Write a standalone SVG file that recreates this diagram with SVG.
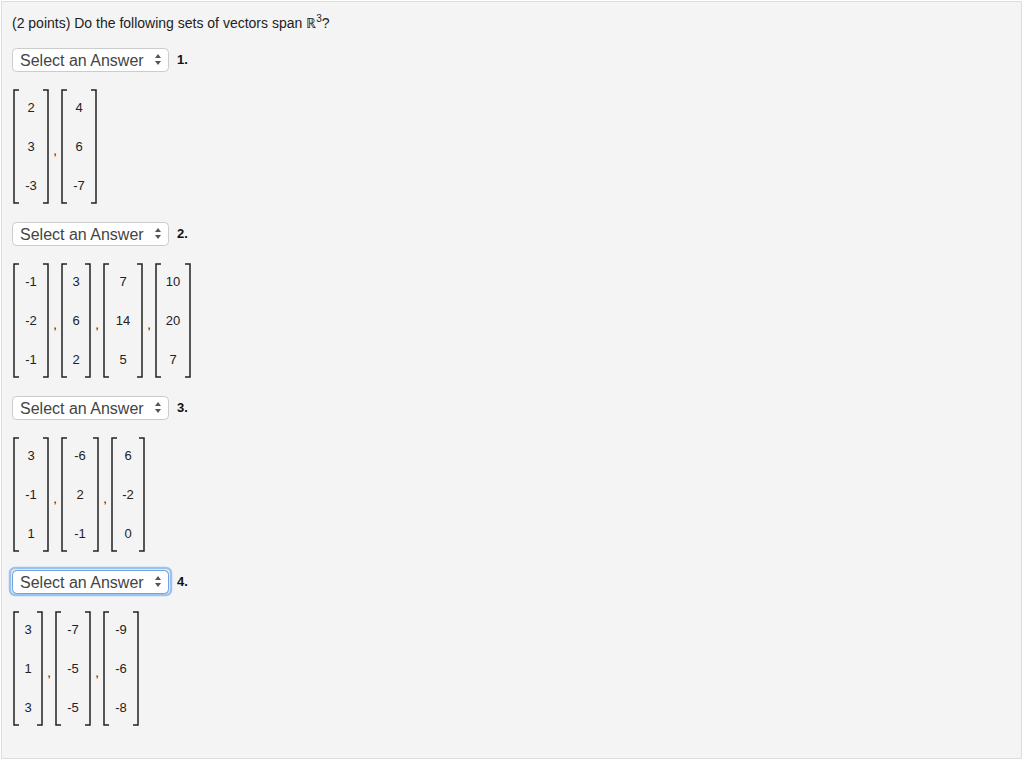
<svg xmlns="http://www.w3.org/2000/svg" width="1024" height="760" viewBox="0 0 1024 760">
<style>
text{font-family:"Liberation Sans",Arial,sans-serif;fill:#222}
.t{font-size:14px}
.s{font-size:16px;fill:#444}
.n{font-size:13px;font-weight:bold;fill:#111}
.e{font-size:13px;text-anchor:middle}
.b{fill:none;stroke:#222;stroke-width:1.5}
.sel{fill:#fff;stroke:#ccc;stroke-width:1}
.ar{fill:#555}
</style>
<rect x="1.5" y="1.5" width="1020" height="757" fill="#f4f4f4" stroke="#ddd"/>
<text class="t" x="12" y="28">(2 points) Do the following sets of vectors span ℝ<tspan dy="-6" font-size="10">3</tspan><tspan dy="6">?</tspan></text>
<defs>
<g id="selbox">
<rect class="sel" x="12.5" y="0.5" width="156" height="23" rx="4"/>
<text class="s" x="20" y="18">Select an Answer</text>
<path class="ar" d="M155 10 l3 -4 l3 4z M155 13 l3 4 l3 -4z"/>
</g>
</defs>
<g id="q1">
<use href="#selbox" y="48"/><text class="n" x="177" y="64">1.</text>
<path class="b" d="M19 90H14V203H19 M43 90H48V203H43 M67 90H62V203H67 M91 90H96V203H91"/>
<text class="e" x="31" y="112">2</text><text class="e" x="31" y="151">3</text><text class="e" x="31" y="190">-3</text>
<text class="e" x="55" y="155">,</text>
<text class="e" x="79" y="112">4</text><text class="e" x="79" y="151">6</text><text class="e" x="79" y="190">-7</text>
</g>
<g id="q2">
<use href="#selbox" y="222"/><text class="n" x="177" y="238">2.</text>
<path class="b" d="M19 264H14V377H19 M43 264H48V377H43 M67 264H62V377H67 M85 264H90V377H85 M109 264H104V377H109 M137 264H142V377H137 M161 264H156V377H161 M185 264H190V377H185"/>
<text class="e" x="31" y="286">-1</text><text class="e" x="31" y="325">-2</text><text class="e" x="31" y="364">-1</text>
<text class="e" x="55" y="329">,</text>
<text class="e" x="76" y="286">3</text><text class="e" x="76" y="325">6</text><text class="e" x="76" y="364">2</text>
<text class="e" x="97" y="329">,</text>
<text class="e" x="123" y="286">7</text><text class="e" x="123" y="325">14</text><text class="e" x="123" y="364">5</text>
<text class="e" x="149" y="329">,</text>
<text class="e" x="173" y="286">10</text><text class="e" x="173" y="325">20</text><text class="e" x="173" y="364">7</text>
</g>
<g id="q3">
<use href="#selbox" y="396"/><text class="n" x="177" y="412">3.</text>
<path class="b" d="M19 438H14V551H19 M43 438H48V551H43 M67 438H62V551H67 M93 438H98V551H93 M117 438H112V551H117 M139 438H144V551H139"/>
<text class="e" x="31" y="460">3</text><text class="e" x="31" y="499">-1</text><text class="e" x="31" y="538">1</text>
<text class="e" x="55" y="503">,</text>
<text class="e" x="80" y="460">-6</text><text class="e" x="80" y="499">2</text><text class="e" x="80" y="538">-1</text>
<text class="e" x="105" y="503">,</text>
<text class="e" x="128" y="460">6</text><text class="e" x="128" y="499">-2</text><text class="e" x="128" y="538">0</text>
</g>
<g id="q4">
<rect x="10" y="568" width="161" height="27" rx="5" fill="none" stroke="#9cc3f0" stroke-width="2.5"/>
<use href="#selbox" y="570"/><text class="n" x="177" y="586">4.</text>
<rect x="12.5" y="570.5" width="156" height="23" rx="4" fill="none" stroke="#6fa3e6"/>
<path class="b" d="M19 612H14V725H19 M37 612H42V725H37 M61 612H56V725H61 M85 612H90V725H85 M109 612H104V725H109 M133 612H138V725H133"/>
<text class="e" x="28" y="634">3</text><text class="e" x="28" y="673">1</text><text class="e" x="28" y="712">3</text>
<text class="e" x="49" y="677">,</text>
<text class="e" x="73" y="634">-7</text><text class="e" x="73" y="673">-5</text><text class="e" x="73" y="712">-5</text>
<text class="e" x="97" y="677">,</text>
<text class="e" x="121" y="634">-9</text><text class="e" x="121" y="673">-6</text><text class="e" x="121" y="712">-8</text>
</g>
</svg>
